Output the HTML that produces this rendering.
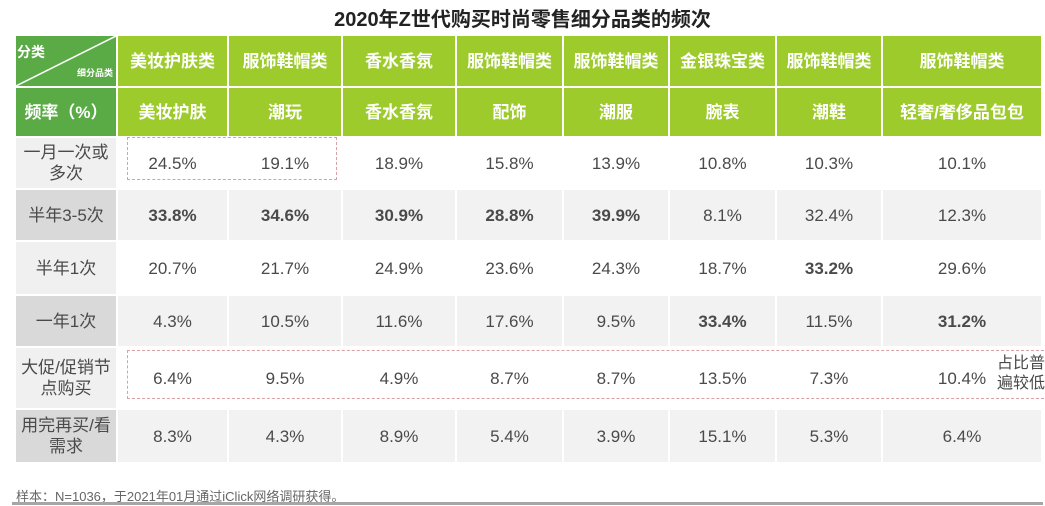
<!DOCTYPE html>
<html><head><meta charset="utf-8"><style>
body{margin:0;width:1045px;height:506px;background:#fff;position:relative;overflow:hidden;font-family:"Liberation Sans","Noto Sans CJK SC",sans-serif;}
.c{position:absolute;display:flex;align-items:center;justify-content:center;text-align:center;box-sizing:border-box;color:#4a4a4a;font-size:17px;line-height:21px;}
.h{color:#fff;font-size:17px;font-weight:bold;}
.b{font-weight:bold;}
</style></head><body>
<div style="position:absolute;left:0;width:1045px;top:3px;text-align:center;font-size:20px;font-weight:bold;color:#222;">2020年Z世代购买时尚零售细分品类的频次</div>
<div id="t"></div>
<div style="position:absolute;left:127px;top:137px;width:208px;height:41px;border:1px dashed #d9a0a8;"></div>
<div style="position:absolute;left:127px;top:350px;width:925px;height:47px;border:1px dashed #d9a0a8;"></div>
<div style="position:absolute;left:997px;top:354px;width:48px;height:44px;overflow:hidden;"><div style="width:60px;font-size:16px;line-height:20px;color:#4a4a4a;">占比普<br>遍较低</div></div>
<div style="position:absolute;left:16px;top:486px;font-size:13px;color:#666;">样本：N=1036，于2021年01月通过iClick网络调研获得。</div>
<div style="position:absolute;left:12px;top:502px;width:1031px;height:3px;background:#a6a6a6;"></div>
<script>
var xs=[16,118,229,343,457,564,670,777,883,1043];
var ys=[36,88,138,190,242,296,348,410,464];
var h1=["美妆护肤类","服饰鞋帽类","香水香氛","服饰鞋帽类","服饰鞋帽类","金银珠宝类","服饰鞋帽类","服饰鞋帽类"];
var h2=["美妆护肤","潮玩","香水香氛","配饰","潮服","腕表","潮鞋","轻奢/奢侈品包包"];
var lab=["一月一次或<br>多次","半年3-5次","半年1次","一年1次","大促/促销节<br>点购买","用完再买/看<br>需求"];
var d=[["24.5%","19.1%","18.9%","15.8%","13.9%","10.8%","10.3%","10.1%"],
["*33.8%","*34.6%","*30.9%","*28.8%","*39.9%","8.1%","32.4%","12.3%"],
["20.7%","21.7%","24.9%","23.6%","24.3%","18.7%","*33.2%","29.6%"],
["4.3%","10.5%","11.6%","17.6%","9.5%","*33.4%","11.5%","*31.2%"],
["6.4%","9.5%","4.9%","8.7%","8.7%","13.5%","7.3%","10.4%"],
["8.3%","4.3%","8.9%","5.4%","3.9%","15.1%","5.3%","6.4%"]];
var s="";
function cell(x0,x1,y0,y1,bg,txt,cls,extra){s+='<div class="c '+(cls||"")+'" style="left:'+x0+'px;top:'+y0+'px;width:'+(x1-x0)+'px;height:'+(y1-y0)+'px;background:'+bg+';border-right:2px solid #fff;border-bottom:2px solid #fff;'+(extra||"")+'">'+txt+'</div>';}
s+='<div style="position:absolute;left:16px;top:36px;width:102px;height:52px;background:#5aab46;border-right:2px solid #fff;border-bottom:2px solid #fff;box-sizing:border-box;"><svg width="100" height="50" style="position:absolute;left:0;top:0"><line x1="0" y1="50" x2="100" y2="0" stroke="#fff" stroke-width="1.5"/></svg><span style="position:absolute;left:1px;top:6px;color:#fff;font-weight:bold;font-size:14px;">分类</span><span style="position:absolute;right:3px;top:30px;color:#fff;font-weight:bold;font-size:9px;">细分品类</span></div>';
cell(16,118,88,138,"#5aab46","频率（%）","h");
for(var i=0;i<8;i++){cell(xs[i+1],xs[i+2],36,88,"#9ccb2b",h1[i],"h");cell(xs[i+1],xs[i+2],88,138,"#9ccb2b",h2[i],"h");}
for(var r=0;r<6;r++){var g=r%2==1;
cell(16,118,ys[r+2],ys[r+3],g?"#d9d9d9":"#f0f0f0",lab[r],"");
for(var i=0;i<8;i++){var t=d[r][i],b=t[0]=="*";if(b)t=t.slice(1);
cell(xs[i+1],xs[i+2],ys[r+2],ys[r+3],g?"#f2f2f2":"#fff",t,b?"b":"","");}}
document.getElementById("t").innerHTML=s;
</script>
</body></html>
